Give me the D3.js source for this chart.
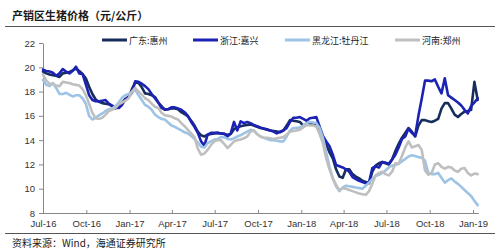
<!DOCTYPE html>
<html>
<head>
<meta charset="utf-8">
<script src="https://cdn.jsdelivr.net/npm/d3@7"></script>
<style>
  html, body { margin: 0; padding: 0; background: #fff; }
  svg { display: block; }
</style>
</head>
<body>
<svg id="chart" width="500" height="252"></svg>
<script>
const dates = ["2016-07-01","2016-07-08","2016-07-15","2016-07-22","2016-07-29","2016-08-05","2016-08-12","2016-08-19","2016-08-26","2016-09-02","2016-09-09","2016-09-16","2016-09-23","2016-09-30","2016-10-07","2016-10-14","2016-10-21","2016-10-28","2016-11-04","2016-11-11","2016-11-18","2016-11-25","2016-12-02","2016-12-09","2016-12-16","2016-12-23","2016-12-30","2017-01-06","2017-01-13","2017-01-20","2017-01-27","2017-02-03","2017-02-10","2017-02-17","2017-02-24","2017-03-03","2017-03-10","2017-03-17","2017-03-24","2017-03-31","2017-04-07","2017-04-14","2017-04-21","2017-04-28","2017-05-05","2017-05-12","2017-05-19","2017-05-26","2017-06-02","2017-06-09","2017-06-16","2017-06-23","2017-06-30","2017-07-07","2017-07-14","2017-07-21","2017-07-28","2017-08-04","2017-08-11","2017-08-18","2017-08-25","2017-09-01","2017-09-08","2017-09-15","2017-09-22","2017-09-29","2017-10-06","2017-10-13","2017-10-20","2017-10-27","2017-11-03","2017-11-10","2017-11-17","2017-11-24","2017-12-01","2017-12-08","2017-12-15","2017-12-22","2017-12-29","2018-01-05","2018-01-12","2018-01-19","2018-01-26","2018-02-02","2018-02-09","2018-02-16","2018-02-23","2018-03-02","2018-03-09","2018-03-16","2018-03-23","2018-03-30","2018-04-06","2018-04-13","2018-04-20","2018-04-27","2018-05-04","2018-05-11","2018-05-18","2018-05-25","2018-06-01","2018-06-08","2018-06-15","2018-06-22","2018-06-29","2018-07-06","2018-07-13","2018-07-20","2018-07-27","2018-08-03","2018-08-10","2018-08-17","2018-08-24","2018-08-31","2018-09-07","2018-09-14","2018-09-21","2018-09-28","2018-10-05","2018-10-12","2018-10-19","2018-10-26","2018-11-02","2018-11-09","2018-11-16","2018-11-23","2018-11-30","2018-12-07","2018-12-14","2018-12-21","2018-12-28","2019-01-04","2019-01-11"];

const guangdong = [19.65,19.5,19.4,19.35,19.3,19.2,19.5,19.55,19.6,19.75,19.9,19.7,19.45,19.1,18.4,17.8,17.35,17.15,17.05,17.0,16.95,16.8,16.6,16.8,17.1,17.4,17.5,18.2,18.75,18.7,18.35,17.85,17.8,17.7,17.55,17.1,16.8,16.5,16.55,16.6,16.6,16.55,16.3,16.15,15.95,15.6,15.2,14.7,14.4,14.3,14.45,14.5,14.55,14.6,14.55,14.5,14.45,14.5,14.9,15.05,15.15,15.2,15.25,15.3,15.2,15.1,15.0,14.95,14.85,14.8,14.75,14.7,14.65,14.8,15.2,15.65,15.6,15.55,15.5,15.2,15.3,15.35,15.4,15.3,14.9,14.2,13.6,13.0,12.5,11.6,11.0,10.9,11.6,11.6,11.2,11.0,10.85,10.65,10.55,10.45,11.4,11.9,12.1,12.2,12.1,12.0,12.4,13.1,13.7,14.2,14.6,15.0,14.7,14.3,15.2,15.65,15.65,15.55,15.5,15.6,15.75,16.6,17.05,17.05,16.6,16.1,15.9,16.15,16.35,16.4,16.5,18.8,17.3];

const zhejiang = [19.8,19.7,19.65,19.55,19.3,19.5,19.85,19.65,19.5,19.7,20.05,19.5,19.45,18.6,17.7,17.3,17.2,17.2,17.25,17.3,17.0,16.85,16.7,16.65,16.9,17.35,17.6,17.9,18.85,18.8,18.65,18.45,18.2,17.8,17.45,17.1,16.65,16.55,16.55,16.7,16.7,16.6,16.5,16.3,16.0,15.5,15.1,14.6,13.9,13.55,14.45,14.6,14.6,14.6,14.55,14.55,14.3,14.55,15.5,14.8,15.55,15.4,15.5,15.4,15.25,15.15,15.05,14.95,14.9,14.8,14.7,14.55,14.7,14.8,15.0,15.5,15.85,15.85,15.9,15.75,15.6,15.8,15.85,15.9,15.1,14.35,13.9,13.5,12.8,11.95,11.85,11.75,11.6,11.4,10.95,10.8,10.65,10.55,10.45,10.5,11.7,11.85,11.75,12.2,12.15,12.05,12.4,12.8,13.4,14.1,14.3,14.95,14.6,14.35,16.0,17.4,18.9,18.9,18.85,19.0,18.4,17.85,19.1,17.7,17.5,17.3,17.1,16.85,16.5,16.2,16.8,17.1,17.45];

const heilongjiang = [18.95,18.55,18.45,18.7,18.3,17.8,17.8,17.9,17.75,17.6,17.7,17.7,17.45,17.0,16.0,15.7,15.85,16.05,16.2,16.4,16.55,16.6,16.8,17.1,17.5,17.7,17.8,17.95,18.15,17.7,17.3,16.9,16.75,16.5,16.1,15.9,15.75,15.7,15.45,15.2,15.1,14.95,14.8,14.65,14.55,14.35,14.1,13.8,13.45,13.4,13.75,13.9,14.05,14.1,14.25,14.25,14.1,14.05,14.15,14.3,14.4,14.55,14.7,14.85,14.8,14.5,14.3,14.2,14.1,14.0,14.0,13.95,13.9,13.9,14.3,14.8,15.0,15.0,15.05,15.2,15.4,15.5,15.45,15.4,15.0,14.2,13.0,11.8,10.85,10.2,9.8,10.1,10.25,10.2,10.15,10.1,10.05,10.0,10.25,10.5,10.8,11.05,11.15,11.3,11.5,11.75,11.9,11.95,12.05,12.25,12.45,12.65,12.75,12.7,12.6,12.55,12.3,11.3,11.2,11.2,11.3,10.9,10.5,10.7,10.85,10.6,10.4,10.15,9.9,9.65,9.4,9.0,8.65];

const henan = [19.4,18.9,18.65,18.6,18.5,18.45,18.8,18.75,18.7,18.6,18.55,18.5,18.2,17.7,17.0,16.25,15.8,15.75,15.85,16.1,16.4,16.5,16.65,16.95,17.1,17.25,17.45,18.0,18.3,18.0,17.75,17.45,17.3,17.0,16.75,16.65,16.25,16.05,16.0,15.95,15.8,15.7,15.4,15.15,14.85,14.55,14.25,13.3,12.8,12.9,13.2,13.6,13.9,14.0,14.0,13.7,13.35,13.6,13.9,14.0,14.05,14.15,14.3,14.7,14.8,14.5,14.3,14.2,14.2,14.15,14.1,14.15,14.2,14.25,14.45,14.7,14.75,14.8,14.85,15.05,15.25,15.2,15.2,15.1,14.5,13.75,12.5,11.6,10.85,10.3,9.9,10.05,10.0,9.9,9.8,9.7,9.6,9.55,9.5,9.8,10.4,11.1,11.3,11.4,11.2,11.1,11.4,12.1,12.05,12.7,13.4,13.9,13.4,13.5,13.6,13.2,11.5,11.15,11.3,12.0,12.1,11.8,11.65,11.8,11.75,11.5,11.4,11.65,11.7,11.3,11.1,11.25,11.2];

const seriesNames = ["广东:惠州", "浙江:嘉兴", "黑龙江:牡丹江", "河南:郑州"];
const seriesValues = [guangdong, zhejiang, heilongjiang, henan];
const seriesColors = ["#172d5c", "#1c22b4", "#9dc3e6", "#bfbfbf"];

const yTicks = [8, 10, 12, 14, 16, 18, 20, 22];
const xTickDates = ["2016-07-01","2016-10-01","2017-01-01","2017-04-01","2017-07-01","2017-10-01","2018-01-01","2018-04-01","2018-07-01","2018-10-01","2019-01-01"];
const xTickLabels = ["Jul-16","Oct-16","Jan-17","Apr-17","Jul-17","Oct-17","Jan-18","Apr-18","Jul-18","Oct-18","Jan-19"];

const titleText = "产销区生猪价格（元/公斤）";
const sourceText = "资料来源：Wind，海通证券研究所";

const parse = d3.timeParse("%Y-%m-%d");
const dateObjs = dates.map(parse);
const tickObjs = xTickDates.map(parse);

const svg = d3.select("#chart");
const mLeft = 43, mRight = 473, mTop = 43, mBottom = 213;

const x = d3.scaleTime().domain([tickObjs[0], tickObjs[tickObjs.length - 1]]).range([mLeft, mRight]);
const y = d3.scaleLinear().domain([8, 22]).range([mBottom, mTop]);

// Title
svg.append("text")
  .attr("x", 12).attr("y", 20)
  .attr("font-family", "'Noto Sans CJK SC', sans-serif")
  .attr("font-weight", "bold")
  .attr("font-size", 11)
  .attr("fill", "#1a1a1a")
  .text(titleText);

svg.append("line")
  .attr("x1", 5).attr("x2", 495).attr("y1", 26.5).attr("y2", 26.5)
  .attr("stroke", "#555").attr("stroke-width", 1.2);

svg.append("line")
  .attr("x1", 5).attr("x2", 495).attr("y1", 233.5).attr("y2", 233.5)
  .attr("stroke", "#555").attr("stroke-width", 1.2);

svg.append("text")
  .attr("x", 12).attr("y", 247)
  .attr("font-family", "'Noto Sans CJK SC', sans-serif")
  .attr("font-size", 10)
  .attr("fill", "#1a1a1a")
  .text(sourceText);

// Axes
const yAxis = d3.axisLeft(y).tickValues(yTicks).tickSizeInner(4).tickSizeOuter(0).tickPadding(4);
const gy = svg.append("g").attr("transform", `translate(${mLeft},0)`).call(yAxis);
gy.selectAll("text").attr("font-family", "'Liberation Sans', Arial, sans-serif").attr("font-size", 9.5).attr("fill", "#333");
gy.selectAll("line").attr("stroke", "#888");
gy.select(".domain").attr("stroke", "#888");

const xAxis = d3.axisBottom(x).tickValues(tickObjs).tickFormat((d, i) => xTickLabels[i])
  .tickSizeInner(-3).tickSizeOuter(0).tickPadding(7);
const gx = svg.append("g").attr("transform", `translate(0,${mBottom})`).call(xAxis);
gx.selectAll("text").attr("font-family", "'Liberation Sans', Arial, sans-serif").attr("font-size", 9.5).attr("fill", "#333");
gx.selectAll("line").attr("stroke", "#888");
gx.select(".domain").remove();
gx.append("line")
  .attr("x1", mLeft).attr("x2", x(dateObjs[dateObjs.length - 1]) + 1)
  .attr("y1", 0.5).attr("y2", 0.5)
  .attr("stroke", "#888");

// Lines
const line = d3.line().x((d, i) => x(dateObjs[i])).y(d => y(d)).curve(d3.curveLinear);
seriesValues.forEach((vals, k) => {
  svg.append("path")
    .datum(vals)
    .attr("d", line)
    .attr("fill", "none")
    .attr("stroke", seriesColors[k])
    .attr("stroke-width", 2.6)
    .attr("stroke-linejoin", "round")
    .attr("stroke-linecap", "round");
});

// Legend
const legendX = [102, 193, 285, 395];
const legendY = 40;
seriesNames.forEach((name, k) => {
  const g = svg.append("g").attr("transform", `translate(${legendX[k]},${legendY})`);
  g.append("line").attr("x1", 0).attr("x2", 25).attr("y1", 0).attr("y2", 0)
    .attr("stroke", seriesColors[k]).attr("stroke-width", 3);
  g.append("text").attr("x", 27).attr("y", 3.5)
    .attr("font-family", "'Noto Sans CJK SC', sans-serif")
    .attr("font-size", 9)
    .attr("fill", "#222")
    .text(name);
});
</script>
</body>
</html>
